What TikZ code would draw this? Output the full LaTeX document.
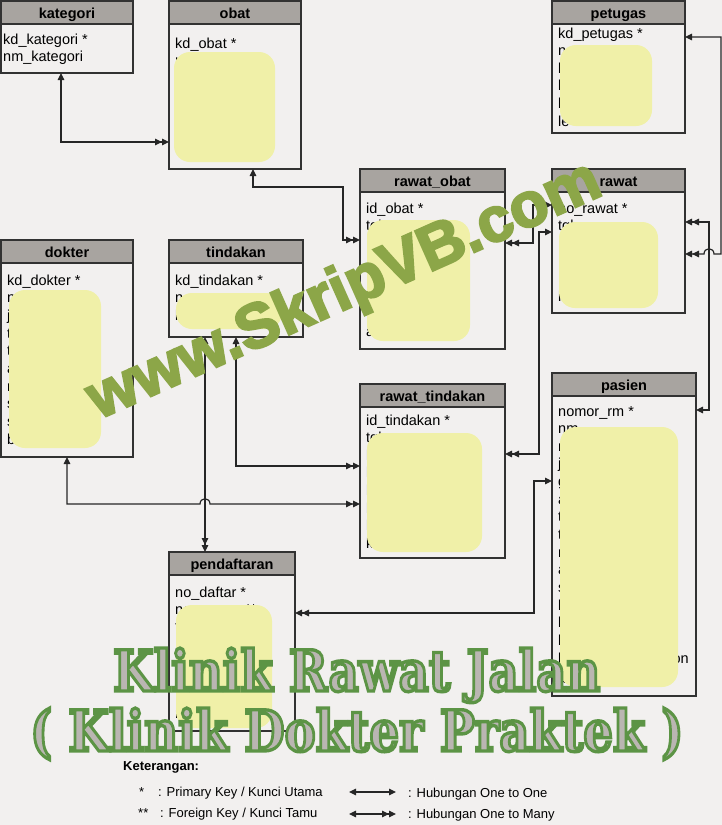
\documentclass[tikz,border=0pt]{standalone}
\usepackage{fontspec}
\usepackage{graphicx}
\setmainfont{Liberation Sans}
\newfontfamily\ttlfont{DejaVu Serif}
\usetikzlibrary{arrows.meta}
\definecolor{bgc}{RGB}{242,240,239}
\definecolor{hdrc}{RGB}{168,164,160}
\definecolor{edge}{RGB}{50,50,50}
\definecolor{blobc}{RGB}{240,240,168}
\definecolor{wm}{RGB}{140,166,72}
\definecolor{ttlfill}{RGB}{186,182,178}
\newcommand\outlined[1]{{\color{ttlfill}\special{pdf:literal direct 0.36 0.58 0.27 RG 0.6 w 2 Tr}#1\special{pdf:literal direct 0 Tr}}}
\newcommand\heavy[1]{{\color{wm}\special{pdf:literal direct 0.549 0.651 0.282 RG 2.2 w 2 Tr}#1\special{pdf:literal direct 0 Tr}}}
\tikzset{
  tbl/.style={draw=edge, line width=1.3pt, fill=bgc, inner sep=0pt, outer sep=0pt, rectangle},
  hdr/.style={draw=edge, line width=1.3pt, fill=hdrc},
  htxt/.style={anchor=base, inner sep=0pt, font=\fontsize{14.5}{17}\selectfont\bfseries},
  ftxt/.style={anchor=base west, inner sep=0pt, font=\fontsize{14.5}{17}\selectfont},
  blob/.style={fill=blobc, rounded corners=16pt},
  ln/.style={draw=black!85, line width=1.2pt, >={Triangle[length=7pt,width=6.5pt]}},
  lg/.style={anchor=base west, inner sep=0pt, font=\fontsize{13}{15}\selectfont},
}
\newcommand\erdtable[6]{%
  \node[tbl, minimum width={(#4-#2)*1pt}, minimum height={(#5-#3)*1pt}] (#1) at ({(#2+#4)/2},{(#3+#5)/2}) {};
  \draw[hdr] (#2,#3) rectangle (#4,#3+23);
  \node[htxt] at ({(#2+#4)/2},#3+17) {#6};}
\newcommand\fields[4]{%
  \foreach \t [count=\i from 0] in {#4} {\node[ftxt] at (#1,{#2+\i*#3}) {\t};}}
\begin{document}
\begin{tikzpicture}[x=1pt,y=-1pt]
\fill[bgc] (0,0) rectangle (722,825);
\useasboundingbox (0,0) rectangle (722,825);

% tables
\erdtable{kategori}{1}{1}{133}{73}{kategori}
\fields{3}{44}{17}{kd\_kategori *, nm\_kategori}

\erdtable{obat}{169}{1}{301}{169}{obat}
\fields{175}{48}{17.6}{kd\_obat *, n}
\fill[blob] (174,52) rectangle (275,162);

\erdtable{petugas}{552}{1}{685}{133}{petugas}
\fields{558}{38}{17.6}{kd\_petugas *, n, l, l, l, le}
\fill[blob] (560,45) rectangle (652,126);

\erdtable{rawatobat}{360}{169}{505}{349}{rawat\_obat}
\fields{366}{213}{17.6}{id\_obat *, tgl, , , , , , a}
\fill[blob] (367,220) rectangle (470,341);

\erdtable{rawat}{552}{169}{685}{313}{rawat}
\fields{558}{213}{17.6}{no\_rawat *, tgl, , , , k}
\fill[blob] (559,222) rectangle (658,308);

\erdtable{dokter}{1}{240}{133}{457}{dokter}
\fields{7}{285}{17.7}{kd\_dokter *, n, j, t, t, a, r, s, s, b}
\fill[blob] (9,290) rectangle (101,448);

\erdtable{tindakan}{169}{240}{303}{337}{tindakan}
\fields{175}{285}{17.6}{kd\_tindakan *, n, l}
\fill[blob] (176,293) rectangle (282,329);

\erdtable{rawattindakan}{360}{384}{505}{558}{rawat\_tindakan}
\fields{366}{425}{17.6}{id\_tindakan *, tgl, l, l, l, l, l, ke}
\fill[blob] (367,433) rectangle (482,552);

\erdtable{pasien}{552}{373}{696}{696}{pasien}
\fields{558}{416}{17.65}{nomor\_rm *, nm, n, j, g, a, t, t, n, a, s, l, l, l, l, tg}
\node[ftxt, anchor=base east] at (689,663) {on};
\fill[blob] (560,427) rectangle (678,687);

\erdtable{pendaftaran}{169}{552}{295}{731}{pendaftaran}
\fields{175}{597}{17.4}{no\_daftar *, nomor\_rm **, t, , , , , r}
\fill[blob] (176,605) rectangle (272,728);

% connectors
\draw[ln,<->>] (kategori.south -| 61,0) |- (obat.west |- 0,142);
\draw[ln,<->>] (obat.south -| 253,0) -- (253,187) -- (343,187) |- (rawatobat.west |- 0,240);
\draw[ln,<<->] (rawatobat.east |- 0,243) -- (533,243) |- (rawat.west |- 0,205);
\draw[ln,<<->] (rawattindakan.east |- 0,454) -- (539,454) |- (rawat.west |- 0,232);
\draw[ln,<<->] (rawat.east |- 0,254) -- (704,254) .. controls (704,247) and (714,247) .. (714,254) -- (721,254) |- (petugas.east |- 0,37);
\draw[ln,<<->] (rawat.east |- 0,222) -- (709,222) |- (pasien.east |- 0,410);
\draw[ln,<->>] (tindakan.south -| 236,0) |- (rawattindakan.west |- 0,466);
\draw[ln,<->>] (dokter.south -| 67,0) -- (67,504) -- (200,504) .. controls (200,497) and (210,497) .. (210,504) -- (rawattindakan.west |- 0,504);
\draw[ln,<->>] (tindakan.south -| 205,0) -- (pendaftaran.north -| 205,0);
\draw[ln,<->>] (pasien.west |- 0,481) -- (534,481) |- (pendaftaran.east |- 0,613);

% watermark
\node[rotate=24, inner sep=0pt, font=\fontsize{63}{63}\selectfont\bfseries] (wmark) at (345,292) {\heavy{www.SkripVB.com}};

% title
\node[anchor=base west, inner sep=0pt] (title1) at (113,691) {\resizebox{487pt}{43pt}{\ttlfont\bfseries\outlined{Klinik Rawat Jalan}}};
\node[anchor=base west, inner sep=0pt] (title2) at (30,751) {\resizebox{653pt}{43pt}{\ttlfont\bfseries\outlined{( Klinik Dokter Praktek )}}};

% legend
\node[lg, font=\fontsize{13}{15}\selectfont\bfseries] (ket) at (123,770) {Keterangan:};
\node[lg] (s1) at (139,796) {*};
\node[lg] (t1) at (158,796) {: Primary Key / Kunci Utama};
\node[lg] (s2) at (138,817) {**};
\node[lg] (t2) at (160,817) {: Foreign Key / Kunci Tamu};
\coordinate (la1) at (349,792);
\coordinate (la2) at (396,792);
\coordinate (lb1) at (349,814);
\coordinate (lb2) at (396,814);
\draw[ln,<->] (la1) -- (la2);
\draw[ln,<->>] (lb1) -- (lb2);
\node[lg] (h1) at (408,797) {: Hubungan One to One};
\node[lg] (h2) at (408,818) {: Hubungan One to Many};
\end{tikzpicture}
\end{document}
